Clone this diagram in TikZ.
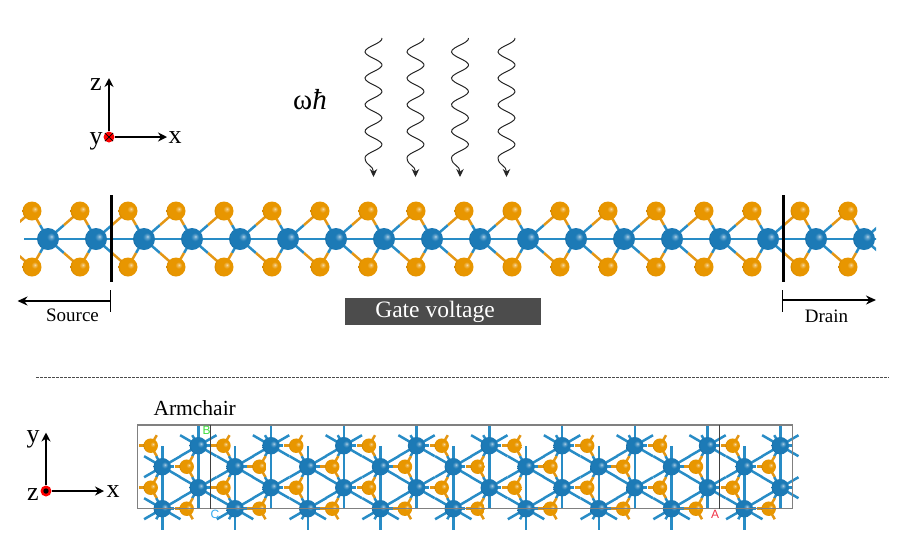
\documentclass[tikz,border=0pt]{standalone}
\usepackage{fontspec}
\setmainfont{Liberation Serif}
\newfontfamily\celllabelfont{Liberation Sans}
\usetikzlibrary{arrows.meta,backgrounds}

\definecolor{atomblue}{RGB}{28,122,182}
\definecolor{atomblueedge}{RGB}{20,96,148}
\definecolor{atomorange}{RGB}{232,150,0}
\definecolor{atomorangeedge}{RGB}{190,118,0}
\definecolor{bondblue}{RGB}{40,140,198}
\definecolor{bondorange}{RGB}{228,150,20}
\definecolor{labelb}{RGB}{60,220,60}
\definecolor{labelc}{RGB}{50,170,240}
\definecolor{labela}{RGB}{240,50,70}

\pgfdeclareradialshading{bluesphere}{\pgfpoint{8bp}{6bp}}{color(0bp)=(atomblue!30!white); color(3bp)=(atomblue!65!white); color(9bp)=(atomblue); color(26bp)=(atomblue); color(33bp)=(atomblueedge); color(50bp)=(atomblueedge)}
\pgfdeclareradialshading{orangesphere}{\pgfpoint{8bp}{6bp}}{color(0bp)=(atomorange!30!white); color(3bp)=(atomorange!65!white); color(9bp)=(atomorange); color(26bp)=(atomorange); color(33bp)=(atomorangeedge); color(50bp)=(atomorangeedge)}

\tikzset{
  atom/.style={circle,inner sep=0pt,shade},
  bluetop/.style={atom,shading=bluesphere,minimum size=22pt},
  orangetop/.style={atom,shading=orangesphere,minimum size=19pt},
  blueplan/.style={atom,shading=bluesphere,minimum size=17.5pt},
  orangeplan/.style={atom,shading=orangesphere,minimum size=14.5pt},
  bluebond/.style={draw=bondblue,line width=2.5pt},
  orangebond/.style={draw=bondorange,line width=2.5pt},
  axisarrow/.style={-{Stealth[length=9pt,width=9pt]},line width=2pt},
  leadarrow/.style={-{Stealth[length=10pt,width=9pt]},line width=1.8pt},
  photon/.style={-{Stealth[length=8pt,width=7.5pt]},line width=1pt,black!85},
  axislabel/.style={inner sep=0pt,font=\fontsize{26}{28}\selectfont},
  leadlabel/.style={inner sep=0pt,font=\fontsize{19}{21}\selectfont},
  celllabel/.style={inner sep=0pt,font=\celllabelfont\fontsize{12}{13}\selectfont},
  gatebox/.style={fill=black!70,minimum width=196.5pt,minimum height=27pt,inner sep=0pt},
}

\begin{document}
\begin{tikzpicture}[x=1pt,y=-1pt]
  \useasboundingbox (0,0) rectangle (923,558);

  % top axes
  \node[circle,fill=red,inner sep=0pt,minimum size=11pt] (axisy) at (109,137) {};
  \node[axislabel] (labelz) at (96,84.5) {z};
  \node[axislabel] (labely) at (96,141) {y};
  \node[axislabel] (labelx) at (175,137.5) {x};
  \coordinate (tipz) at (109,78);
  \coordinate (tipx) at (167,137);
  \draw[axisarrow] (axisy) -- (tipz);
  \draw[axisarrow] (axisy) -- (tipx);
  \draw[line width=.7pt] (axisy.45) -- (axisy.225);
  \draw[line width=.7pt] (axisy.135) -- (axisy.315);

  \node[inner sep=0pt,font=\fontsize{29}{31}\selectfont] (energy) at (310,100) {ω\textit{ħ}};

  % incoming light
  \foreach \wx in {373.5,415.5,460,506.5} {
    \draw[photon] plot[smooth,domain=38:158,samples=61] ({\wx+8.5*cos(13.585*(\x-65))},\x)
      .. controls (\wx-8,166) and (\wx,165) .. (\wx,177);
  }

  % side view atoms
  \foreach \k in {0,...,17} {
    \pgfmathsetmacro{\bx}{48+48*\k}
    \pgfmathsetmacro{\ox}{32+48*\k}
    \node[bluetop] (b\k) at (\bx,239) {};
    \node[orangetop] (ou\k) at (\ox,211) {};
    \node[orangetop] (od\k) at (\ox,267) {};
  }
  % side view bonds
  \begin{scope}[on background layer]
    \begin{scope}
      \clip (20,180) rectangle (876,300);
      \foreach \k in {0,...,17} {
        \draw[bluebond] (b\k.center) -- ++(24,0);
        \draw[bluebond] (b\k.center) -- ++(-24,0);
        \foreach \s in {-1,1} {
          \draw[bluebond] (b\k.center) -- ++(-8,\s*14);
          \draw[bluebond] (b\k.center) -- ++(16,\s*14);
        }
        \draw[orangebond] (ou\k.center) -- ++(8,14);
        \draw[orangebond] (ou\k.center) -- ++(-16,14);
        \draw[orangebond] (od\k.center) -- ++(8,-14);
        \draw[orangebond] (od\k.center) -- ++(-16,-14);
      }
    \end{scope}
  \end{scope}

  % contact cuts
  \coordinate (cutla) at (111.5,195);
  \coordinate (cutlb) at (111.5,281.5);
  \coordinate (cutra) at (783.5,195);
  \coordinate (cutrb) at (783.5,281.5);
  \draw[line width=2.3pt] (cutla) -- (cutlb);
  \draw[line width=2.3pt] (cutra) -- (cutrb);

  % source and drain
  \coordinate (sourcea) at (110.5,290);
  \coordinate (sourceb) at (110.5,312);
  \coordinate (sourcem) at (110.5,301);
  \coordinate (sourcee) at (17.5,301);
  \coordinate (draina) at (782,290);
  \coordinate (drainb) at (782,312);
  \coordinate (drainm) at (782,300);
  \coordinate (draine) at (876,300);
  \draw[line width=.8pt] (sourcea) -- (sourceb);
  \draw[line width=.8pt] (draina) -- (drainb);
  \draw[leadarrow] (sourcem) -- (sourcee);
  \draw[leadarrow] (drainm) -- (draine);
  \node[leadlabel] (source) at (72.5,315) {Source};
  \node[leadlabel] (drain) at (826.5,316) {Drain};

  % gate
  \node[gatebox] (gate) at (442.8,311) {};
  \node[inner sep=0pt,text=white,font=\fontsize{23.5}{25}\selectfont] (gatelabel) at (435,312) {Gate voltage};

  % separator
  \coordinate (sepa) at (36,377);
  \coordinate (sepb) at (889,377);
  \draw[black!70,line width=.8pt,dash pattern=on 3pt off 1pt] (sepa) -- (sepb);

  \node[inner sep=0pt,font=\fontsize{21.5}{23}\selectfont] (armchair) at (194.7,408) {Armchair};

  % bottom axes
  \node[circle,fill=red,inner sep=0pt,minimum size=11pt] (axisz) at (46,491) {};
  \fill[black] (axisz) circle (2.7);
  \node[axislabel] (labely2) at (33,439) {y};
  \node[axislabel] (labelz2) at (33,494.5) {z};
  \node[axislabel] (labelx2) at (113,491.5) {x};
  \coordinate (tipy2) at (46,432.5);
  \coordinate (tipx2) at (104,491);
  \draw[axisarrow] (axisz) -- (tipy2);
  \draw[axisarrow] (axisz) -- (tipx2);

  % plan view atoms
  \foreach \r/\bx/\ox/\ry in {a/198.3/150.7/445.7,b/162.3/186.7/466.7,c/198.3/150.7/487.7,d/162.3/186.7/508.7} {
    \foreach \k in {0,...,8} {
      \node[blueplan] (p\r\k) at (\bx+72.75*\k,\ry) {};
      \node[orangeplan] (q\r\k) at (\ox+72.75*\k,\ry) {};
    }
  }
  % plan view bonds
  \begin{scope}[on background layer]
    \foreach \r in {a,b,c,d} {
      \foreach \k in {0,...,8} {
        \foreach \a in {30,90,150,210,270,330} {
          \draw[bluebond] (p\r\k.center) -- ++(\a:21);
        }
        \foreach \a in {0,120,240} {
          \draw[bluebond] (p\r\k.center) -- ++(\a:12.15);
        }
        \foreach \a in {60,180,300} {
          \draw[orangebond] (q\r\k.center) -- ++(\a:12.15);
        }
      }
    }
  \end{scope}

  % cell frame
  \draw[black!50,line width=1.1pt] (137.7,425) rectangle (792.3,508.7);
  \coordinate (cellla) at (210.7,425);
  \coordinate (celllb) at (210.7,508.7);
  \coordinate (cellra) at (719.3,425);
  \coordinate (cellrb) at (719.3,508.7);
  \draw[black!75,line width=.8pt] (cellla) -- (celllb);
  \draw[black!75,line width=.8pt] (cellra) -- (cellrb);
  \node[celllabel,text=labelb] (axisb) at (206.7,430) {B};
  \node[celllabel,text=labelc] (axisc) at (215,514.5) {C};
  \node[celllabel,text=labela] (axisa) at (715,514) {A};
\end{tikzpicture}
\end{document}
